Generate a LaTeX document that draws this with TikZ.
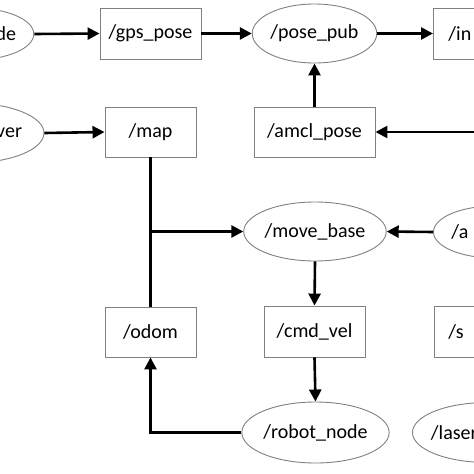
\documentclass[tikz,border=0pt]{standalone}
\usepackage{fontspec}
\setmainfont{Carlito}
\usetikzlibrary{shapes.geometric, arrows.meta}

\tikzset{
    topic/.style={draw=gray, line width=0.9pt, rectangle, minimum height=51pt, inner sep=0pt, font=\fontsize{20}{24}\selectfont},
    rosnode/.style={draw=gray, line width=0.9pt, ellipse, inner sep=0pt, font=\fontsize{20}{24}\selectfont},
    link/.style={line width=2.6pt, -{Triangle[length=12pt,width=12pt]}}
}

\begin{document}
\begin{tikzpicture}[x=1pt,y=-1pt]
            % Page and clipping
            \useasboundingbox (0,0) rectangle (474,474);
            \clip (0,0) rectangle (474,474);
            % Top row
            \node[rosnode, minimum width=121pt, minimum height=52pt, text width=86pt, align=right] (gpsnode) at (-27,34) {de};
            \node[topic, minimum width=101pt] (gpspose) at (150.5,33.5) {/gps\_pose};
            \node[rosnode, minimum width=121pt, minimum height=59pt] (posepub) at (314.5,33.5) {/pose\_pub};
            \node[topic, anchor=west, text width=72pt, inner xsep=15pt, align=left] (initpose) at (433,33.5) {/in};
            % Second row
            \node[rosnode, minimum width=150pt, minimum height=60pt, text width=106pt, align=right] (mapserver) at (-31,133) {ver};
            \node[topic, minimum width=91pt, minimum height=50pt] (map) at (150.5,132) {/map};
            \node[topic, minimum width=121pt, minimum height=50pt] (amclpose) at (314.5,132) {/amcl\_pose};
            \coordinate (offright) at (480,132);
            % Third row
            \node[rosnode, minimum width=136pt, minimum height=59pt] (movebase) at (315,231.5) {/move\_base};
            \node[rosnode, anchor=west, minimum width=122pt, minimum height=52pt, text width=86pt, align=left] (amcl) at (433,232) {/a};
            % Fourth row
            \node[topic, minimum width=91pt, minimum height=50pt] (odom) at (150.5,332) {/odom};
            \node[topic, minimum width=101pt] (cmdvel) at (314.5,331.5) {/cmd\_vel};
            \node[topic, anchor=west, text width=72pt, inner xsep=14pt, align=left] (scan) at (434,332) {/s};
            % Bottom row
            \node[rosnode, minimum width=145pt, minimum height=61pt] (robotnode) at (315.5,432.5) {/robot\_node};
            \node[rosnode, anchor=west, minimum width=150pt, minimum height=60pt, text width=113pt, inner xsep=-10pt, align=left] (laser) at (412,432.5) {/laser};
            % Connections
            \draw[link] (gpsnode.east) -- (gpspose.west);
            \draw[link] (gpspose.east) -- (posepub.west);
            \draw[link] (posepub.east) -- (initpose.west);
            \draw[link] (mapserver.east) -- (map.west);
            \draw[link] (offright) -- (amclpose.east);
            \draw[link] (amclpose.north) -- (posepub.south);
            \draw[line width=2.6pt] (map.south) -- (odom.north);
            \coordinate (branch) at (map.south |- movebase.west);
            \draw[link] (branch) -- (movebase.west);
            \draw[link] (amcl.west) -- (movebase.east);
            \draw[link] (movebase.south) -- (cmdvel.north);
            \draw[link] (cmdvel.south) -- (robotnode.north);
            \draw[link] (robotnode.west) -| (odom.south);
        \end{tikzpicture}
\end{document}
